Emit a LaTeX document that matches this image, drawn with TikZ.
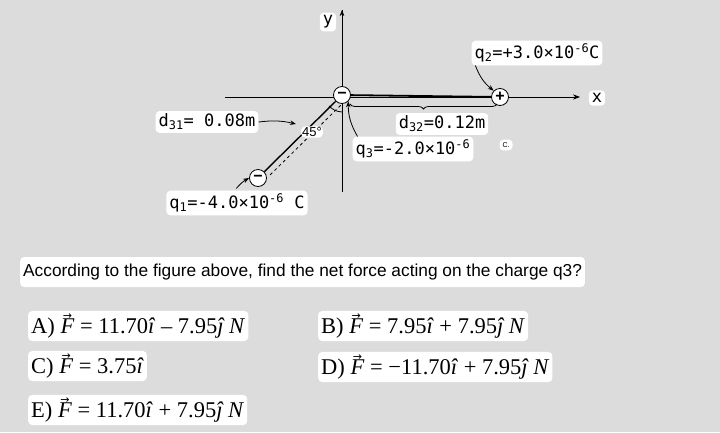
\documentclass[tikz,border=0pt]{standalone}
\usepackage{fontspec}
\setmainfont{Liberation Serif}
\setsansfont{Liberation Sans}
\setmonofont{DejaVu Sans Mono}
\newfontfamily\dv{DejaVu Sans}
\usetikzlibrary{arrows.meta,decorations.pathreplacing}
\definecolor{bg}{HTML}{DCDCDC}
\newcommand{\vF}{\makebox[0pt][l]{\raisebox{0.6em}{\hspace{0.1em}\dv\fontsize{11}{11}\selectfont →}}\textit{F}}
\newcommand{\sbs}[1]{\textsubscript{#1}}
\newcommand{\sps}[1]{\textsuperscript{#1}}
\tikzset{
 wbox/.style={fill=white,rounded corners=4pt,inner sep=3pt},
 lab/.style={wbox,font=\ttfamily\fontsize{17}{19}\selectfont},
 opt/.style={wbox,anchor=west,font=\fontsize{22.5}{24}\selectfont,minimum height=29pt},
 chg/.style={circle,draw,thick,fill=white,minimum size=17pt,inner sep=0pt,font=\sffamily\bfseries\fontsize{16}{16}\selectfont},
 ptr/.style={-{Stealth[length=6pt]},thick}
}
\begin{document}
\begin{tikzpicture}[x=1pt,y=-1pt]
\fill[bg] (0,0) rectangle (720,432);
\useasboundingbox (0,0) rectangle (720,432);
% axes
\coordinate (ytop) at (342,10);
\coordinate (ybot) at (342,192);
\coordinate (xl) at (225,97);
\coordinate (xr) at (580,97);
\draw[thick] (ybot) -- (ytop);
\draw[-{Stealth[length=6pt]}] (ytop) ++(0,8) -- (ytop);
\draw[thick,-{Stealth[length=7pt]}] (xl) -- (xr);
\node[lab] (ylab) at (328,22) {y};
\node[lab] (xlab) at (597,98) {x};
% charges
\node[chg] (q3) at (342,95) {−};
\node[chg] (q2) at (500,97) {+};
\node[chg] (q1) at (258,178) {−};
\draw[line width=1.8pt] (q3) -- (q2);
\draw[line width=1.4pt] (q3.south west) -- (q1.north east);
\draw[thick,dashed] ([shift={(5,4)}]q3.south west) -- ([shift={(5,4)}]q1.north east);
% angle
\coordinate (a1) at (342,112);
\coordinate (a2) at (329,106);
\draw[thick] (a2) to[bend right=20] (a1);
% brace d32
\coordinate (b1) at (350,104);
\coordinate (b2) at (497,104);
\draw[thick,decorate,decoration={brace,mirror,amplitude=5pt}] (b1) -- (b2);
% labels
\node[lab] (q2lab) at (537,53) {q\sbs{2}=+3.0×10\sps{-6}C};
\node[lab] (d31) at (207,122) {d\sbs{31}= 0.08m};
\node[lab,inner sep=1pt,font=\sffamily\fontsize{13}{15}\selectfont] (ang) at (312,132) {45°};
\node[lab] (d32) at (442,124) {d\sbs{32}=0.12m};
\node[lab] (q3lab) at (413,149) {q\sbs{3}=-2.0×10\sps{-6}};
\node[wbox,font=\sffamily\fontsize{7}{8}\selectfont] (cdot) at (506,145) {C.};
\node[lab] (q1lab) at (237,203) {q\sbs{1}=-4.0×10\sps{-6} C};
\coordinate (d31end) at (296,124);
\draw[ptr] (d31.east) to[bend left=10] (d31end);
\draw[ptr] (q2lab.south west) ++(4,0) to[bend right=15] (q2.north west);
\draw[ptr] (q3lab.north west) ++(5,0) to[bend left=15] (q3.south east);
\draw[ptr] (q1lab.north west) ++(70,-2) to[bend left=10] (q1.west);
% question
\node[wbox,anchor=west,font=\sffamily\fontsize{17.3}{19}\selectfont,minimum height=30pt] (qq) at (20,272) {According to the figure above, find the net force acting on the charge q3?};
\node[opt] (A) at (28,326) {A) \vF\ = 11.70\textit{î} – 7.95\textit{ĵ N}};
\node[opt] (B) at (318,326) {B) \vF\ = 7.95\textit{î} + 7.95\textit{ĵ N}};
\node[opt] (C) at (28,366) {C) \vF\ = 3.75\textit{î}};
\node[opt] (D) at (318,367) {D) \vF\ = −11.70\textit{î} + 7.95\textit{ĵ N}};
\node[opt] (E) at (28,410) {E) \vF\ = 11.70\textit{î} + 7.95\textit{ĵ N}};
\end{tikzpicture}
\end{document}
